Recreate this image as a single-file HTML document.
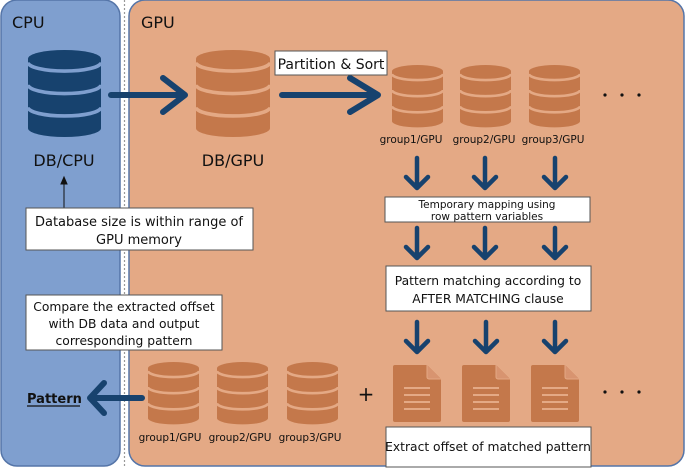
<!DOCTYPE html>
<html><head><meta charset="utf-8"><style>
html,body{margin:0;padding:0;background:#fff;}
svg{display:block;font-family:"DejaVu Sans","Liberation Sans",sans-serif;}
</style></head><body>
<svg width="685" height="468" viewBox="0 0 685 468" xmlns="http://www.w3.org/2000/svg">
<defs>
<g id="cylO">
<path d="M0,12 A50,12 0 0 1 100,12 V108 A50,12 0 0 1 0,108 Z" fill="#c4784b"/>
<path d="M0,17 A50,12 0 0 0 100,17 M0,48 A50,12 0 0 0 100,48 M0,79 A50,12 0 0 0 100,79" fill="none" stroke="#e4a985" stroke-width="5"/>
</g>
<g id="cylB">
<path d="M0,12 A50,12 0 0 1 100,12 V108 A50,12 0 0 1 0,108 Z" fill="#17426e"/>
<path d="M0,17 A50,12 0 0 0 100,17 M0,48 A50,12 0 0 0 100,48 M0,79 A50,12 0 0 0 100,79" fill="none" stroke="#7f9fcf" stroke-width="5"/>
</g>
<g id="doc">
<path d="M2,0 H34 L48,14 V55 A2,2 0 0 1 46,57 H2 A2,2 0 0 1 0,55 V2 A2,2 0 0 1 2,0 Z" fill="#c4784b"/>
<path d="M34,0 V12 A2,2 0 0 0 36,14 H48" fill="#d89470" stroke="#e4a985" stroke-width="1"/>
<path d="M11,23 H37 M11,30 H37 M11,37 H37 M11,44 H37" stroke="#e4a985" stroke-width="2"/>
</g>
<g id="down"><path d="M0,0 V30 M-11,19 L0,30 L11,19" fill="none" stroke="#17426e" stroke-width="4.5" stroke-linecap="round" stroke-linejoin="round"/></g>
</defs>
<rect x="1" y="0" width="119" height="466" rx="16" fill="#7f9fcf" stroke="#5575a8" stroke-width="1.5"/>
<rect x="129" y="0" width="555" height="466" rx="16" fill="#e4a985" stroke="#5575a8" stroke-width="1.5"/>
<line x1="124.5" y1="0" x2="124.5" y2="468" stroke="#999" stroke-width="1.2" stroke-dasharray="2,2"/>
<text x="12" y="28" font-size="16" fill="#111">CPU</text>
<text x="141" y="28" font-size="16" fill="#111">GPU</text>
<use href="#cylB" transform="translate(28,50) scale(0.73,0.725)"/>
<use href="#cylO" transform="translate(196,50) scale(0.74,0.725)"/>
<text x="64" y="166" font-size="16" text-anchor="middle" fill="#111">DB/CPU</text>
<text x="233" y="166" font-size="16" text-anchor="middle" fill="#111">DB/GPU</text>
<path d="M111,95 H185 M163,78 L185,95 L163,112" fill="none" stroke="#17426e" stroke-width="6" stroke-linecap="round" stroke-linejoin="round"/>
<path d="M282,95 H378 M350,78 L378,95 L350,112" fill="none" stroke="#17426e" stroke-width="6" stroke-linecap="round" stroke-linejoin="round"/>
<rect x="275" y="51" width="112" height="24" fill="#fff" stroke="#555" stroke-width="1"/>
<text x="331" y="69" font-size="14" text-anchor="middle" fill="#111">Partition &amp; Sort</text>
<use href="#cylO" transform="translate(392,65) scale(0.51,0.52)"/>
<use href="#cylO" transform="translate(460,65) scale(0.51,0.52)"/>
<use href="#cylO" transform="translate(529,65) scale(0.51,0.52)"/>
<text x="411" y="143" font-size="10.5" text-anchor="middle" fill="#111">group1/GPU</text>
<text x="484" y="143" font-size="10.5" text-anchor="middle" fill="#111">group2/GPU</text>
<text x="553" y="143" font-size="10.5" text-anchor="middle" fill="#111">group3/GPU</text>
<g fill="#111"><circle cx="605" cy="95" r="1.6"/><circle cx="622" cy="95" r="1.6"/><circle cx="639" cy="95" r="1.6"/>
<circle cx="605" cy="392" r="1.6"/><circle cx="622" cy="392" r="1.6"/><circle cx="639" cy="392" r="1.6"/></g>
<use href="#down" transform="translate(417,158)"/>
<use href="#down" transform="translate(485,158)"/>
<use href="#down" transform="translate(555,158)"/>
<rect x="385" y="197" width="205" height="25" fill="#fff" stroke="#555" stroke-width="1"/>
<text x="487" y="208" font-size="10.5" text-anchor="middle" fill="#111">Temporary mapping using</text>
<text x="487" y="220" font-size="10.5" text-anchor="middle" fill="#111">row pattern variables</text>
<use href="#down" transform="translate(417,228)"/>
<use href="#down" transform="translate(485,228)"/>
<use href="#down" transform="translate(555,228)"/>
<rect x="386" y="266" width="205" height="45" fill="#fff" stroke="#555" stroke-width="1"/>
<text x="488" y="285" font-size="12.3" text-anchor="middle" fill="#111">Pattern matching according to</text>
<text x="488" y="303" font-size="12.3" text-anchor="middle" fill="#111">AFTER MATCHING clause</text>
<use href="#down" transform="translate(417,322)"/>
<use href="#down" transform="translate(486,322)"/>
<use href="#down" transform="translate(555,322)"/>
<use href="#doc" transform="translate(393,365)"/>
<use href="#doc" transform="translate(462,365)"/>
<use href="#doc" transform="translate(531,365)"/>
<text x="366" y="401" font-size="20" text-anchor="middle" fill="#111">+</text>
<rect x="386" y="427" width="205" height="40" fill="#fff" stroke="#555" stroke-width="1"/>
<text x="488" y="451" font-size="12.3" text-anchor="middle" fill="#111">Extract offset of matched pattern</text>
<use href="#cylO" transform="translate(148,362) scale(0.51,0.52)"/>
<use href="#cylO" transform="translate(217,362) scale(0.51,0.52)"/>
<use href="#cylO" transform="translate(287,362) scale(0.51,0.52)"/>
<text x="170" y="441" font-size="10.5" text-anchor="middle" fill="#111">group1/GPU</text>
<text x="240" y="441" font-size="10.5" text-anchor="middle" fill="#111">group2/GPU</text>
<text x="310" y="441" font-size="10.5" text-anchor="middle" fill="#111">group3/GPU</text>
<path d="M142,398 H90 M104,383 L90,398 L104,413" fill="none" stroke="#17426e" stroke-width="6" stroke-linecap="round" stroke-linejoin="round"/>
<text x="27" y="403" font-size="13" font-weight="bold" fill="#111">Pattern</text>
<line x1="27" y1="406" x2="80" y2="406" stroke="#111" stroke-width="1.2"/>
<path d="M64,208 V178 M61,184 L64,177 L67,184 Z" fill="#111" stroke="#111" stroke-width="1"/>
<rect x="26" y="208" width="227" height="42" fill="#fff" stroke="#555" stroke-width="1"/>
<text x="139" y="226" font-size="13" text-anchor="middle" fill="#111">Database size is within range of</text>
<text x="139" y="244" font-size="13" text-anchor="middle" fill="#111">GPU memory</text>
<rect x="26" y="295" width="196" height="55" fill="#fff" stroke="#555" stroke-width="1"/>
<text x="124" y="311" font-size="12.3" text-anchor="middle" fill="#111">Compare the extracted offset</text>
<text x="124" y="328" font-size="12.3" text-anchor="middle" fill="#111">with DB data and output</text>
<text x="124" y="345" font-size="12.3" text-anchor="middle" fill="#111">corresponding pattern</text>
</svg>
</body></html>
